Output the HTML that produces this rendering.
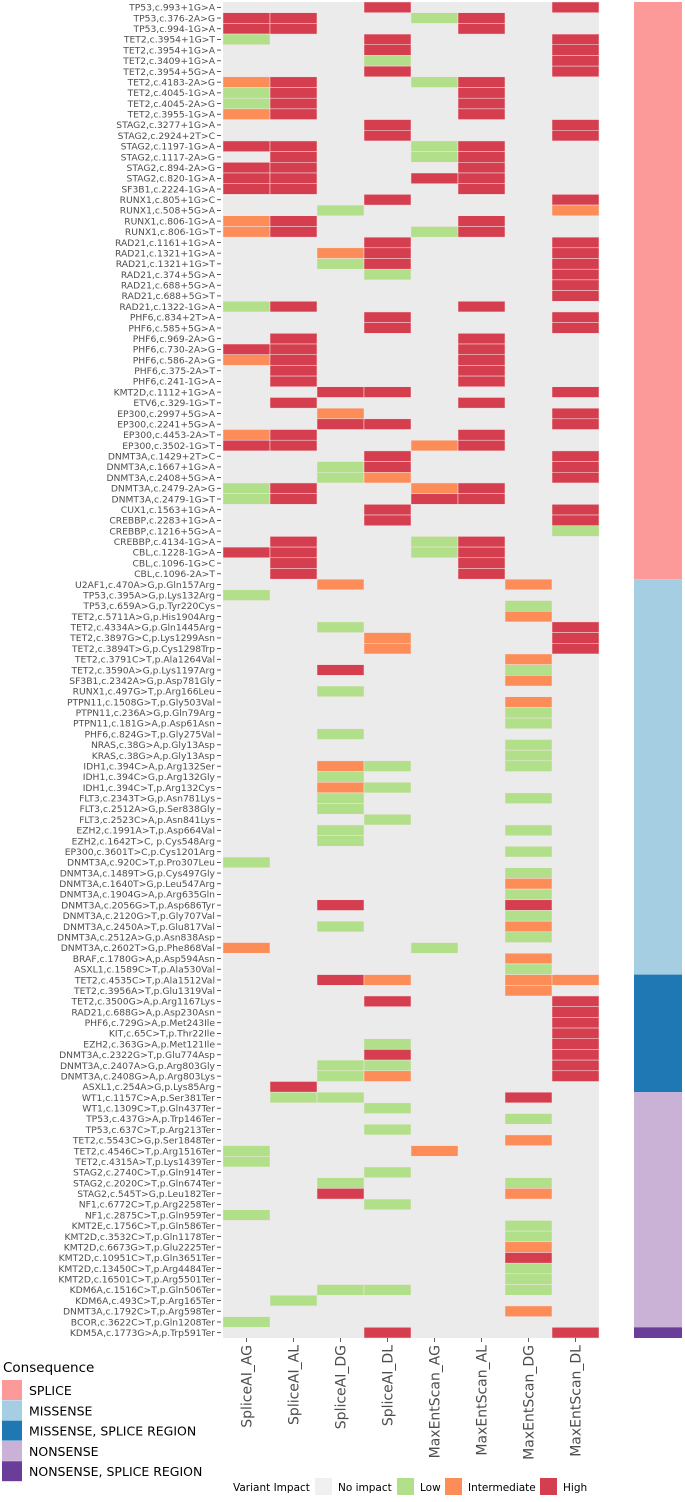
<!DOCTYPE html>
<html><head><meta charset="utf-8"><style>
body{margin:0;background:#fff;width:685px;height:1497px;overflow:hidden;font-family:"Liberation Sans","DejaVu Sans",sans-serif}
</style></head><body>
<svg id="chart" width="685" height="1497" xmlns="http://www.w3.org/2000/svg" font-family="DejaVu Sans, Liberation Sans, sans-serif"></svg>
<script>
const columns=["SpliceAI_AG","SpliceAI_AL","SpliceAI_DG","SpliceAI_DL","MaxEntScan_AG","MaxEntScan_AL","MaxEntScan_DG","MaxEntScan_DL"];
const variants=["TP53,c.993+1G>A","TP53,c.376-2A>G","TP53,c.994-1G>A","TET2,c.3954+1G>T","TET2,c.3954+1G>A","TET2,c.3409+1G>A","TET2,c.3954+5G>A","TET2,c.4183-2A>G","TET2,c.4045-1G>A","TET2,c.4045-2A>G","TET2,c.3955-1G>A","STAG2,c.3277+1G>A","STAG2,c.2924+2T>C","STAG2,c.1197-1G>A","STAG2,c.1117-2A>G","STAG2,c.894-2A>G","STAG2,c.820-1G>A","SF3B1,c.2224-1G>A","RUNX1,c.805+1G>C","RUNX1,c.508+5G>A","RUNX1,c.806-1G>A","RUNX1,c.806-1G>T","RAD21,c.1161+1G>A","RAD21,c.1321+1G>A","RAD21,c.1321+1G>T","RAD21,c.374+5G>A","RAD21,c.688+5G>A","RAD21,c.688+5G>T","RAD21,c.1322-1G>A","PHF6,c.834+2T>A","PHF6,c.585+5G>A","PHF6,c.969-2A>G","PHF6,c.730-2A>G","PHF6,c.586-2A>G","PHF6,c.375-2A>T","PHF6,c.241-1G>A","KMT2D,c.1112+1G>A","ETV6,c.329-1G>T","EP300,c.2997+5G>A","EP300,c.2241+5G>A","EP300,c.4453-2A>T","EP300,c.3502-1G>T","DNMT3A,c.1429+2T>C","DNMT3A,c.1667+1G>A","DNMT3A,c.2408+5G>A","DNMT3A,c.2479-2A>G","DNMT3A,c.2479-1G>T","CUX1,c.1563+1G>A","CREBBP,c.2283+1G>A","CREBBP,c.1216+5G>A","CREBBP,c.4134-1G>A","CBL,c.1228-1G>A","CBL,c.1096-1G>C","CBL,c.1096-2A>T",
"U2AF1,c.470A>G,p.Gln157Arg","TP53,c.395A>G,p.Lys132Arg","TP53,c.659A>G,p.Tyr220Cys","TET2,c.5711A>G,p.His1904Arg","TET2,c.4334A>G,p.Gln1445Arg","TET2,c.3897G>C,p.Lys1299Asn","TET2,c.3894T>G,p.Cys1298Trp","TET2,c.3791C>T,p.Ala1264Val","TET2,c.3590A>G,p.Lys1197Arg","SF3B1,c.2342A>G,p.Asp781Gly","RUNX1,c.497G>T,p.Arg166Leu","PTPN11,c.1508G>T,p.Gly503Val","PTPN11,c.236A>G,p.Gln79Arg","PTPN11,c.181G>A,p.Asp61Asn","PHF6,c.824G>T,p.Gly275Val","NRAS,c.38G>A,p.Gly13Asp","KRAS,c.38G>A,p.Gly13Asp","IDH1,c.394C>A,p.Arg132Ser","IDH1,c.394C>G,p.Arg132Gly","IDH1,c.394C>T,p.Arg132Cys","FLT3,c.2343T>G,p.Asn781Lys","FLT3,c.2512A>G,p.Ser838Gly","FLT3,c.2523C>A,p.Asn841Lys","EZH2,c.1991A>T,p.Asp664Val","EZH2,c.1642T>C, p.Cys548Arg","EP300,c.3601T>C,p.Cys1201Arg","DNMT3A,c.920C>T,p.Pro307Leu","DNMT3A,c.1489T>G,p.Cys497Gly","DNMT3A,c.1640T>G,p.Leu547Arg","DNMT3A,c.1904G>A,p.Arg635Gln","DNMT3A,c.2056G>T,p.Asp686Tyr","DNMT3A,c.2120G>T,p.Gly707Val","DNMT3A,c.2450A>T,p.Glu817Val","DNMT3A,c.2512A>G,p.Asn838Asp","DNMT3A,c.2602T>G,p.Phe868Val","BRAF,c.1780G>A,p.Asp594Asn","ASXL1,c.1589C>T,p.Ala530Val",
"TET2,c.4535C>T,p.Ala1512Val","TET2,c.3956A>T,p.Glu1319Val","TET2,c.3500G>A,p.Arg1167Lys","RAD21,c.688G>A,p.Asp230Asn","PHF6,c.729G>A,p.Met243Ile","KIT,c.65C>T,p.Thr22Ile","EZH2,c.363G>A,p.Met121Ile","DNMT3A,c.2322G>T,p.Glu774Asp","DNMT3A,c.2407A>G,p.Arg803Gly","DNMT3A,c.2408G>A,p.Arg803Lys","ASXL1,c.254A>G,p.Lys85Arg",
"WT1,c.1157C>A,p.Ser381Ter","WT1,c.1309C>T,p.Gln437Ter","TP53,c.437G>A,p.Trp146Ter","TP53,c.637C>T,p.Arg213Ter","TET2,c.5543C>G,p.Ser1848Ter","TET2,c.4546C>T,p.Arg1516Ter","TET2,c.4315A>T,p.Lys1439Ter","STAG2,c.2740C>T,p.Gln914Ter","STAG2,c.2020C>T,p.Gln674Ter","STAG2,c.545T>G,p.Leu182Ter","NF1,c.6772C>T,p.Arg2258Ter","NF1,c.2875C>T,p.Gln959Ter","KMT2E,c.1756C>T,p.Gln586Ter","KMT2D,c.3532C>T,p.Gln1178Ter","KMT2D,c.6673G>T,p.Glu2225Ter","KMT2D,c.10951C>T,p.Gln3651Ter","KMT2D,c.13450C>T,p.Arg4484Ter","KMT2D,c.16501C>T,p.Arg5501Ter","KDM6A,c.1516C>T,p.Gln506Ter","KDM6A,c.493C>T,p.Arg165Ter","DNMT3A,c.1792C>T,p.Arg598Ter","BCOR,c.3622C>T,p.Gln1208Ter","KDM5A,c.1773G>A,p.Trp591Ter"];
const impact=["00030003","33001300","33000300","10030003","00030003","00010003","00030003","23001300","13000300","13000300","23000300","00030003","00030003","33001300","03001300","33000300","33003300","33000300","00030003","00100002","23000300","23001300","00030003","00230003","00130003","00010003","00000003","00000003","13000300","00030003","00030003","03000300","33000300","23000300","03000300","03000300","00330003","03000300","00200003","00330003","23000300","33002300","00030003","00130003","00120003","13002300","13003300","00030003","00030003","00000001","03001300","33001300","03000300","03000300",
"00200020","10000000","00000010","00000020","00100003","00020003","00020003","00000020","00300010","00000020","00100000","00000020","00000010","00000010","00100000","00000010","00000010","00210010","00100000","00210000","00100010","00100000","00010000","00100010","00100000","00000010","10000000","00000010","00000020","00000010","00300030","00000010","00100020","00000010","20001000","00000020","00000010",
"00320022","00000020","00030003","00000003","00000003","00000003","00010003","00030003","00110003","00120003","03000000",
"01100030","00010000","00000010","00010000","00000020","10002000","10000000","00010000","00100010","00300020","00010000","10000000","00000010","00000010","00000020","00000030","00000010","00000010","00110010","01000000","00000020","10000000","00030003"];
const consequenceNames=["SPLICE","MISSENSE","MISSENSE, SPLICE REGION","NONSENSE","NONSENSE, SPLICE REGION"];
const consequenceCounts=[54,37,11,22,1];
const impactNames=["No impact","Low","Intermediate","High"];

const NS="http://www.w3.org/2000/svg";
const svg=document.getElementById('chart');
function mk(tag,attrs,parent){const e=document.createElementNS(NS,tag);for(const k in attrs)e.setAttribute(k,attrs[k]);(parent||svg).appendChild(e);return e;}
const impactColors=["#ebebeb","#b2df8a","#fc8d59","#d53e4f"];
const consColors=["#fb9a99","#a6cee3","#1f78b4","#cab2d6","#6a3d9a"];
const X0=223,X1=599,Y0=2,Y1=1338;
const colW=(X1-X0)/columns.length, rowH=(Y1-Y0)/variants.length;
const xPos=i=>X0+i*colW, yPos=r=>Y0+r*rowH;

const bg=mk('rect',{x:X0,y:Y0,width:X1-X0,height:Y1-Y0,fill:"#ebebeb"});



variants.forEach((v,r)=>{
  for(let c=0;c<columns.length;c++){
    const val=+impact[r][c];
    if(val===0)continue;
    const cell=mk('rect',{x:xPos(c),y:yPos(r),width:colW,height:rowH,fill:impactColors[val],stroke:"#f2e6e6","stroke-width":0.5});
    
    
  }
  const t=mk('text',{x:215,y:yPos(r)+rowH/2+3.3,"text-anchor":"end","font-size":"9.2",fill:"#4d4d4d"});
  t.textContent=v;
  
  
  const tk=mk('line',{x1:217,x2:221,y1:yPos(r)+rowH/2,y2:yPos(r)+rowH/2,stroke:"#333","stroke-width":0.8});
  
  
});

columns.forEach((c,i)=>{
  const cx=xPos(i)+colW/2;
  const tk=mk('line',{x1:cx,x2:cx,y1:Y1,y2:Y1+4,stroke:"#333","stroke-width":0.8});
  
  
  const t=mk('text',{x:0,y:0,transform:`translate(${cx+5},${Y1+7}) rotate(-90)`,"text-anchor":"end","font-size":"14",fill:"#4d4d4d"});
  t.textContent=c;
  
  
});

let acc=0;
consequenceCounts.forEach((n,i)=>{
  const b=mk('rect',{x:634,y:yPos(acc),width:48,height:n*rowH,fill:consColors[i]});
  
  
  acc+=n;
});

const lt=mk('text',{x:3,y:1372,"font-size":"13.5",fill:"#000"});
lt.textContent="Consequence";


consequenceNames.forEach((n,i)=>{
  const y=1380+i*20.3;
  const s=mk('rect',{x:2,y:y,width:20,height:20,fill:consColors[i]});
  
  
  const t=mk('text',{x:29,y:y+15,"font-size":"12.5",fill:"#000"});
  t.textContent=n;
  
  
});

const vt=mk('text',{x:233,y:1491,"font-size":"10.5",fill:"#000"});
vt.textContent="Variant Impact";


const swX=[315,397,445,540];
impactNames.forEach((n,i)=>{
  const s=mk('rect',{x:swX[i],y:1478,width:17,height:17,fill:i===0?"#f0f0f0":impactColors[i]});
  
  
  const t=mk('text',{x:swX[i]+23,y:1491,"font-size":"10.5",fill:"#000"});
  t.textContent=n;
  
  
});
</script>
</body></html>
